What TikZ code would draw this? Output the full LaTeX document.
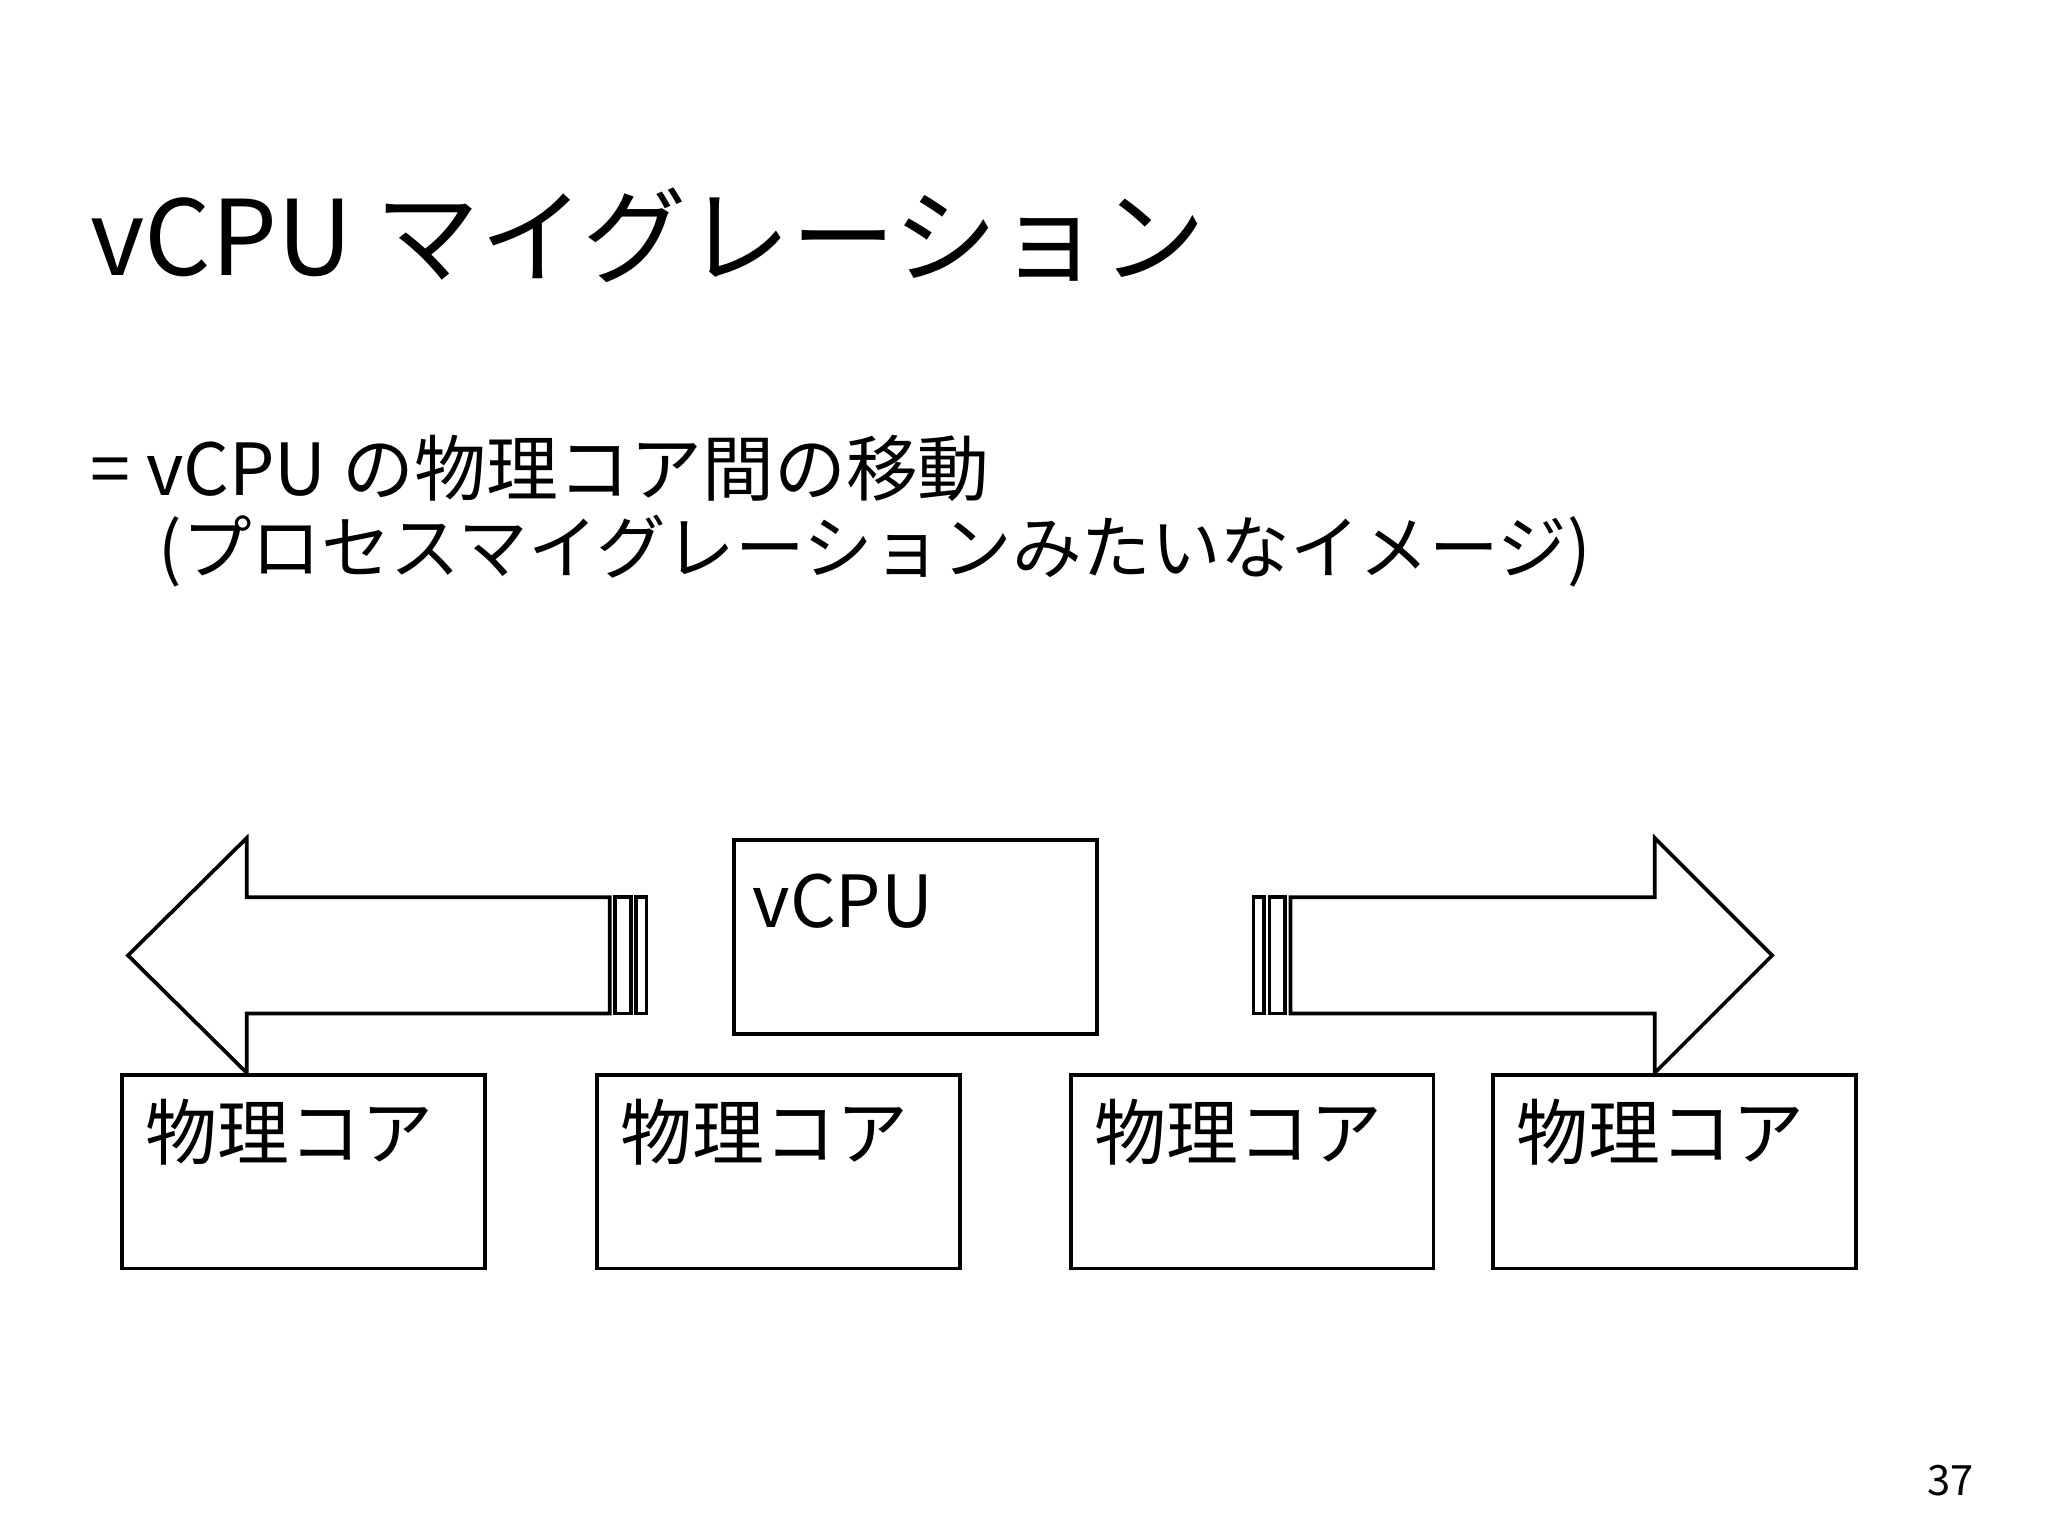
\documentclass[tikz,border=0pt]{standalone}
\usepackage{fontspec}
\setmainfont{Noto Sans CJK JP}
\usetikzlibrary{positioning}
\tikzset{
	box/.style = {draw, line width=1.6pt, minimum width=5.5cm, minimum height=2.94cm, inner sep=0pt},
	boxtext/.style = {font=\fontsize{31}{34}\selectfont, anchor=west, inner sep=0pt},
	fatarrow/.style = {draw, line width=1.6pt, line join=miter}
}
\begin{document}
\begin{tikzpicture}[x=0.02cm, y=-0.02cm]
	\useasboundingbox (0,0) rectangle (1552,1164);
	
	\node[anchor=west, inner sep=0pt, font=\fontsize{45}{50}\selectfont] (title) at (68,178) {vCPU マイグレーション};
	
	\node[anchor=west, inner sep=0pt, font=\fontsize{31}{34}\selectfont] (line1) at (68,355) {= vCPU の物理コア間の移動};
	\node[anchor=west, inner sep=0pt, font=\fontsize{30}{34}\selectfont] (line2) at (120,418) {(プロセスマイグレーションみたいなイメージ)};
	
	\node[box, anchor=north west] (vcpu) at (555,635) {};
	\node[boxtext] at (570,683) {vCPU};
	
	\foreach \x/\n in {91/a, 451/b, 810/c, 1130/d} {
		\node[box, anchor=north west] (core\n) at (\x,813) {};
		\node[boxtext] at (\x+19,858) {物理コア};
	}
	
	% left arrow
	\draw[fatarrow] (462,680) -- (187,680) -- (187,635) -- (97,724) -- (187,813) -- (187,768) -- (462,768) -- cycle;
	\draw[fatarrow] (466,680) rectangle (478,768);
	\draw[fatarrow] (482,680) rectangle (490,768);
	
	% right arrow
	\draw[fatarrow] (978,680) -- (1254,680) -- (1254,635) -- (1343,724) -- (1254,813) -- (1254,768) -- (978,768) -- cycle;
	\draw[fatarrow] (962,680) rectangle (974,768);
	\draw[fatarrow] (950,680) rectangle (958,768);
	
	\node[font=\fontsize{18}{20}\selectfont] (page) at (1478,1122) {37};
\end{tikzpicture}
\end{document}
